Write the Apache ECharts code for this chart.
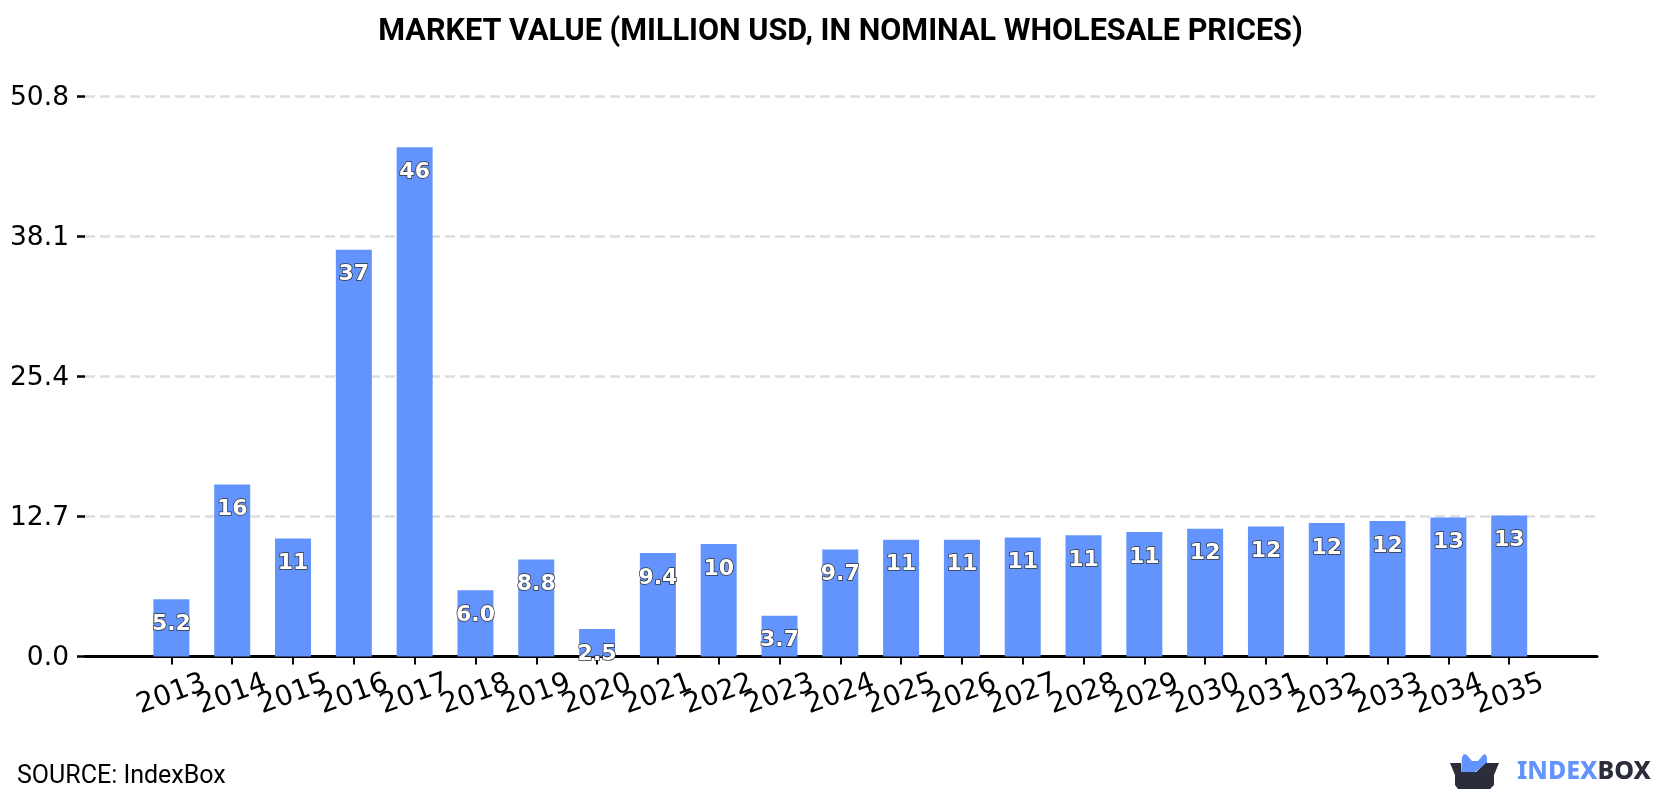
<!DOCTYPE html>
<html>
<head>
<meta charset="utf-8">
<title>Market Value</title>
<style>html,body{margin:0;padding:0;background:#fff}#chart{width:1680px;height:800px}</style>
<script src="https://cdn.jsdelivr.net/npm/echarts@6/dist/echarts.min.js"></script>
</head>
<body>
<div id="chart"></div>
<script>
const years = ['2013','2014','2015','2016','2017','2018','2019','2020','2021','2022','2023','2024','2025','2026','2027','2028','2029','2030','2031','2032','2033','2034','2035'];
const marketValue = [5.2,15.6,10.7,36.9,46.2,6.0,8.8,2.5,9.4,10.2,3.7,9.7,10.6,10.6,10.8,11.0,11.3,11.6,11.8,12.1,12.3,12.6,12.8];
const yMax = 50.8;
const yStep = 12.7;
const titleText = 'MARKET VALUE (MILLION USD, IN NOMINAL WHOLESALE PRICES)';
const sourceText = 'SOURCE: IndexBox';

const BLUE = '#6394fd';
const DARK = '#2b2d3a';

// Values from ten upward show no decimals, smaller ones show one.
const formatValue = v => v >= 10 ? String(Math.round(v)) : v.toFixed(1);

const chart = echarts.init(document.getElementById('chart'), null, {renderer: 'canvas'});
chart.setOption({
  animation: false,
  backgroundColor: '#fff',
  title: {
    text: titleText,
    left: 835.5, top: 12, textAlign: 'center',
    textStyle: {fontFamily: 'Roboto', fontWeight: 700, fontSize: 30.6, color: '#000'}
  },
  grid: [
    // Outer frame carrying the gridlines and the long baseline
    {left: 85, right: 83, top: 96.5, bottom: 143.5},
    // Inner band holding the bars
    {left: 141, width: 1398.6, top: 96.5, bottom: 143.5}
  ],
  xAxis: [
    {
      gridIndex: 0, type: 'value', min: 0, max: 1,
      axisLine: {show: true, onZero: false, lineStyle: {color: '#000', width: 3}},
      axisTick: {show: false}, axisLabel: {show: false}, splitLine: {show: false}
    },
    {
      gridIndex: 1, type: 'category', data: years,
      axisLine: {show: false},
      axisTick: {show: true, alignWithLabel: true, length: 8, lineStyle: {color: '#000', width: 2}},
      axisLabel: {
        interval: 0, rotate: 20, align: 'center', verticalAlign: 'middle', margin: 38,
        fontFamily: 'DejaVu Sans', fontSize: 28, color: '#000'
      }
    }
  ],
  yAxis: [
    {
      gridIndex: 0, type: 'value', min: 0, max: yMax, interval: yStep,
      axisLine: {show: false},
      axisTick: {show: true, length: 8, lineStyle: {color: '#000', width: 2.5}},
      axisLabel: {
        margin: 16, verticalAlign: 'top', lineHeight: 4,
        fontFamily: 'DejaVu Sans', fontSize: 26.5, color: '#000',
        formatter: v => v.toFixed(1)
      },
      splitLine: {show: true, lineStyle: {color: '#dddddd', width: 2.5, type: [10, 5]}}
    },
    {
      gridIndex: 1, type: 'value', min: 0, max: yMax, interval: yStep,
      axisLine: {show: false}, axisTick: {show: false}, axisLabel: {show: false}, splitLine: {show: false}
    }
  ],
  series: [{
    type: 'bar',
    xAxisIndex: 1, yAxisIndex: 1,
    data: marketValue,
    barWidth: 36,
    itemStyle: {color: BLUE},
    label: {
      show: true, position: 'insideTop', distance: 14,
      formatter: p => formatValue(p.value),
      fontFamily: 'DejaVu Sans', fontWeight: 'bold', fontSize: 22,
      color: '#fff', textBorderColor: '#333', textBorderWidth: 1.5
    }
  }],
  graphic: [
    {
      type: 'text', left: 17, top: 764,
      style: {text: sourceText, fontFamily: 'Roboto', fontSize: 25, fill: '#000'}
    },
    {
      // Crown rising out of the box
      type: 'polygon',
      shape: {points: [[1461,772],[1462,757],[1464,754],[1467,755],[1472,761],[1478,761],[1483,755],[1485,754],[1487,757],[1487,763],[1475,772]]},
      style: {fill: BLUE}
    },
    {
      // Box body
      type: 'polygon',
      shape: {points: [[1450,763],[1461,763],[1461,772],[1476,772],[1486,763],[1499,763],[1494,775],[1494,785],[1490,789],[1458,789],[1455,785],[1455,775]]},
      style: {fill: DARK}
    },
    {
      type: 'text', left: 1517, top: 759,
      style: {
        rich: {
          a: {fontFamily: 'Noto Sans', fontWeight: 800, fontSize: 25, fill: BLUE, color: BLUE},
          b: {fontFamily: 'Noto Sans', fontWeight: 800, fontSize: 25, fill: DARK, color: DARK}
        },
        text: '{a|INDEX}{b|BOX}'
      }
    }
  ]
});
</script>
</body>
</html>
